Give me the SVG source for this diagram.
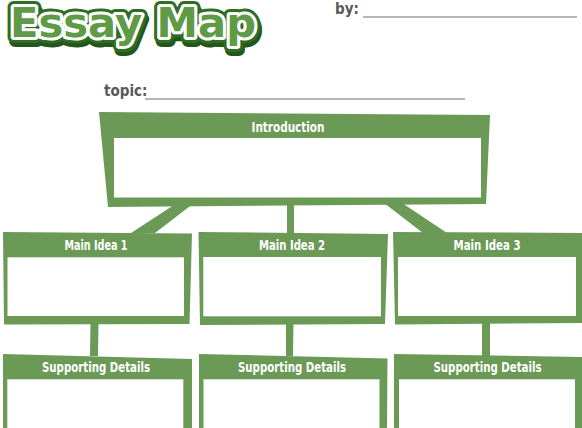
<svg xmlns="http://www.w3.org/2000/svg" width="582" height="428" viewBox="0 0 582 428">
  <style>
    .frame { fill: #6b9a56; }
    .inner { fill: #ffffff; }
    .label { fill: #ffffff; font-family: "DejaVu Sans Condensed", "DejaVu Sans", sans-serif; font-weight: bold; font-size: 14.5px; text-anchor: middle; }
    .gray { fill: #58595b; font-family: "DejaVu Sans Condensed", "DejaVu Sans", sans-serif; font-weight: bold; font-size: 15px; }
    .rule { stroke: #6d6e70; stroke-width: 1.2; }
    .ttl { font-family: "DejaVu Sans", sans-serif; font-weight: bold; font-size: 40px; stroke-linejoin: round; }
    .conn { fill: #6b9a56; }
  </style>
  <defs>
    <text id="ttltext" class="ttl" x="10" y="37" textLength="246" lengthAdjust="spacingAndGlyphs">Essay Map</text>
  </defs>
  <rect width="582" height="428" fill="#ffffff"/>

  <g id="title">
    <use href="#ttltext" transform="translate(1.5,3.5)" fill="#24561b" stroke="#24561b" stroke-width="12"/>
    <use href="#ttltext" fill="#2f6c24" stroke="#2f6c24" stroke-width="12"/>
    <use href="#ttltext" fill="#ffffff" stroke="#ffffff" stroke-width="6"/>
    <use href="#ttltext" fill="#5f9a47"/>
  </g>

  <g id="byline">
    <text class="gray" x="335" y="14">by:</text>
    <line class="rule" x1="363" y1="17" x2="577" y2="17"/>
  </g>

  <g id="topic">
    <text class="gray" x="104" y="96">topic:</text>
    <line class="rule" x1="145" y1="99" x2="465" y2="99"/>
  </g>

  <g id="connectors">
    <polygon class="conn" points="177,203 194,203 155,233 131,233"/>
    <rect class="conn" x="287" y="203" width="7" height="30"/>
    <polygon class="conn" points="384,203 402,203 447,233 423,233"/>
    <polygon class="conn" points="90.5,322 98.5,322 98,356 90,356"/>
    <polygon class="conn" points="286,322 293.5,322 293,356 286,356"/>
    <polygon class="conn" points="482,322 490,322 490,356 482,356"/>
  </g>

  <g id="introduction">
    <polygon class="frame" points="99,112 490,115 486,204 108,207"/>
    <rect class="inner" x="114" y="138" width="367" height="59.5"/>
    <text class="label" x="288" y="132" textLength="73" lengthAdjust="spacingAndGlyphs">Introduction</text>
  </g>

  <g id="main-idea-1">
    <polygon class="frame" points="3,232 192,233.5 189.5,324 4,324.5"/>
    <rect class="inner" x="7.5" y="257.3" width="176.5" height="58.7"/>
    <text class="label" x="96" y="250" textLength="63" lengthAdjust="spacingAndGlyphs">Main Idea 1</text>
  </g>

  <g id="main-idea-2">
    <polygon class="frame" points="198.5,232 388,234 385,324 200,325"/>
    <rect class="inner" x="203.3" y="257" width="177.7" height="59.3"/>
    <text class="label" x="292" y="250" textLength="66" lengthAdjust="spacingAndGlyphs">Main Idea 2</text>
  </g>

  <g id="main-idea-3">
    <polygon class="frame" points="393,232 582,233 582,323 395,324.5"/>
    <rect class="inner" x="398" y="257" width="178" height="59"/>
    <text class="label" x="487" y="250" textLength="67" lengthAdjust="spacingAndGlyphs">Main Idea 3</text>
  </g>

  <g id="supporting-details-1">
    <polygon class="frame" points="3,354 192,359 192,428 3,428"/>
    <rect class="inner" x="7.3" y="379.3" width="176" height="49"/>
    <text class="label" x="96" y="372" textLength="108" lengthAdjust="spacingAndGlyphs">Supporting Details</text>
  </g>

  <g id="supporting-details-2">
    <polygon class="frame" points="199,354 387.5,358.5 387,428 199,428"/>
    <rect class="inner" x="203.5" y="379.3" width="176" height="49"/>
    <text class="label" x="292" y="372" textLength="108" lengthAdjust="spacingAndGlyphs">Supporting Details</text>
  </g>

  <g id="supporting-details-3">
    <polygon class="frame" points="394,354 582,357 582,428 394,428"/>
    <rect class="inner" x="399" y="379.3" width="176" height="49"/>
    <text class="label" x="487.5" y="372" textLength="108" lengthAdjust="spacingAndGlyphs">Supporting Details</text>
  </g>
</svg>
